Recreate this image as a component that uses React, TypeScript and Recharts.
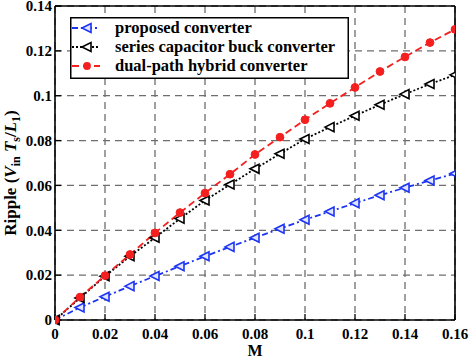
import React from "react";
import { LineChart, Line, XAxis, YAxis, CartesianGrid, Legend } from "recharts";

const mValues = [0, 0.01, 0.02, 0.03, 0.04, 0.05, 0.06, 0.07, 0.08, 0.09, 0.1, 0.11, 0.12, 0.13, 0.14, 0.15, 0.16];
const proposed = [0, 0.0056, 0.0104, 0.0151, 0.0196, 0.024, 0.0284, 0.0326, 0.0367, 0.0407, 0.0447, 0.0484, 0.0521, 0.0556, 0.059, 0.0622, 0.0653];
const seriesCap = [0, 0.0098, 0.0195, 0.0284, 0.0367, 0.0452, 0.0533, 0.0604, 0.0674, 0.0741, 0.0807, 0.086, 0.0911, 0.096, 0.1007, 0.1052, 0.1093];
const dualPath = [0, 0.0102, 0.0198, 0.0292, 0.0388, 0.0479, 0.0566, 0.065, 0.0738, 0.0815, 0.0893, 0.0966, 0.1037, 0.1108, 0.1173, 0.1237, 0.1296];

const xTicks = [0, 0.02, 0.04, 0.06, 0.08, 0.1, 0.12, 0.14, 0.16];
const yTicks = [0, 0.02, 0.04, 0.06, 0.08, 0.1, 0.12, 0.14];
const xMinor = [0, 0.005, 0.01, 0.015, 0.02, 0.025, 0.03, 0.035, 0.04, 0.045, 0.05, 0.055, 0.06, 0.065, 0.07, 0.075, 0.08, 0.085, 0.09, 0.095, 0.1, 0.105, 0.11, 0.115, 0.12, 0.125, 0.13, 0.135, 0.14, 0.145, 0.15, 0.155, 0.16];
const yMinor = [0, 0.005, 0.01, 0.015, 0.02, 0.025, 0.03, 0.035, 0.04, 0.045, 0.05, 0.055, 0.06, 0.065, 0.07, 0.075, 0.08, 0.085, 0.09, 0.095, 0.1, 0.105, 0.11, 0.115, 0.12, 0.125, 0.13, 0.135, 0.14];

const names = ["proposed converter", "series capacitor buck converter", "dual-path hybrid converter"];

const data = mValues.map((m, i) => ({
  m,
  proposed: proposed[i],
  seriesCap: seriesCap[i],
  dualPath: dualPath[i],
}));

const BLUE = "#1c34f2";
const RED = "#f41f1f";
const FONT = "'Liberation Serif', 'Times New Roman', serif";

const tri = (cx: number, cy: number) => `${cx - 5},${cy} ${cx + 4},${cy - 4.5} ${cx + 4},${cy + 4.5}`;

const BlueDot = (p: any) => (
  <polygon key={p.index} points={tri(p.cx, p.cy)} fill="#dfe4ff" stroke={BLUE} strokeWidth={1.6} />
);
const BlackDot = (p: any) => (
  <polygon key={p.index} points={tri(p.cx, p.cy)} fill="#fff" stroke="#000" strokeWidth={1.6} />
);
const RedDot = (p: any) => <circle key={p.index} cx={p.cx} cy={p.cy} r={3.9} fill={RED} stroke={RED} />;

const tickStyle = { fontFamily: FONT, fontWeight: "bold", fontSize: 15, fill: "#000" };

function LegendBox() {
  const rows = [
    { dash: "6 3 2 3", color: BLUE, marker: "tri", fill: "#dfe4ff" },
    { dash: "2 2", color: "#000", marker: "tri", fill: "#fff" },
    { dash: "7 4", color: RED, marker: "circle", fill: RED },
  ];
  return (
    <svg width={279} height={62} style={{ display: "block" }}>
      <rect x={0.75} y={0.75} width={277.5} height={60.5} fill="#fff" stroke="#000" strokeWidth={1.5} />
      {rows.map((r, i) => {
        const y = 11 + i * 19;
        return (
          <g key={i}>
            <line x1={2} x2={30} y1={y} y2={y} stroke={r.color} strokeWidth={1.8} strokeDasharray={r.dash} />
            {r.marker === "tri" ? (
              <polygon points={tri(17, y)} fill={r.fill} stroke={r.color} strokeWidth={1.6} />
            ) : (
              <circle cx={17} cy={y} r={3.9} fill={r.fill} />
            )}
            <text x={45} y={y + 5} style={{ ...tickStyle, fontSize: 16.5 }}>
              {names[i]}
            </text>
          </g>
        );
      })}
    </svg>
  );
}

export default function App() {
  return (
    <div style={{ position: "absolute", left: 0, top: 0, background: "#fff" }}>
      <LineChart width={474} height={361} data={data} margin={{ top: 6, right: 19, bottom: 0, left: 0 }}>
        <CartesianGrid stroke="#6e6e6e" strokeWidth={1.3} strokeDasharray="7 5" xAxisId="x" yAxisId="y" />
        <XAxis
          xAxisId="x"
          dataKey="m"
          type="number"
          domain={[0, 0.16]}
          ticks={xTicks}
          height={41}
          tickSize={-6}
          tickMargin={14}
          tickLine={{ stroke: "#000", strokeWidth: 1.3 }}
          axisLine={{ stroke: "#000", strokeWidth: 1.6 }}
          tick={tickStyle}
          interval={0}
          allowDataOverflow
          label={{
            content: () => (
              <text x={255} y={356} textAnchor="middle" style={{ ...tickStyle, fontSize: 16 }}>
                M
              </text>
            ),
          }}
        />
        <XAxis xAxisId="xb" type="number" dataKey="m" domain={[0, 0.16]} ticks={xMinor} orientation="bottom" mirror height={1} tick={false} tickSize={3} axisLine={false} tickLine={{ stroke: "#000" }} interval={0} />
        <XAxis xAxisId="xt" type="number" dataKey="m" domain={[0, 0.16]} ticks={xMinor} orientation="top" mirror height={1} tick={false} tickSize={3} axisLine={{ stroke: "#000", strokeWidth: 1.6 }} tickLine={{ stroke: "#000" }} interval={0} />
        <YAxis
          yAxisId="y"
          type="number"
          domain={[0, 0.14]}
          ticks={yTicks}
          width={55}
          tickSize={-6}
          tickMargin={9}
          tickLine={{ stroke: "#000", strokeWidth: 1.3 }}
          axisLine={{ stroke: "#000", strokeWidth: 1.6 }}
          tick={tickStyle}
          interval={0}
          label={{
            content: () => (
              <text transform="translate(16,173) rotate(-90)" textAnchor="middle" style={{ ...tickStyle, fontSize: 17 }}>
                Ripple (
                <tspan fontStyle="italic">V</tspan>
                <tspan fontSize={12} dy={4}>in</tspan>
                <tspan dy={-4}> </tspan>
                <tspan fontStyle="italic">T</tspan>
                <tspan fontSize={12} dy={4}>s</tspan>
                <tspan dy={-4}>/</tspan>
                <tspan fontStyle="italic">L</tspan>
                <tspan fontSize={12} dy={4}>1</tspan>
                <tspan dy={-4}>)</tspan>
              </text>
            ),
          }}
        />
        <YAxis yAxisId="yl" type="number" domain={[0, 0.14]} ticks={yMinor} orientation="left" mirror width={1} tick={false} tickSize={3} axisLine={false} tickLine={{ stroke: "#000" }} interval={0} />
        <YAxis yAxisId="yr" type="number" domain={[0, 0.14]} ticks={yMinor} orientation="right" mirror width={1} tick={false} tickSize={3} axisLine={{ stroke: "#000", strokeWidth: 1.6 }} tickLine={{ stroke: "#000" }} interval={0} />
        <Legend
          layout="vertical"
          align="center"
          verticalAlign="middle"
          wrapperStyle={{ position: "absolute", left: 70, top: 17, width: 279, height: 62 }}
          content={() => <LegendBox />}
        />
        <Line xAxisId="x" yAxisId="y" dataKey="proposed" name={names[0]} stroke={BLUE} strokeWidth={1.8} strokeDasharray="6 3 2 3" dot={BlueDot} isAnimationActive={false} />
        <Line xAxisId="x" yAxisId="y" dataKey="seriesCap" name={names[1]} stroke="#000" strokeWidth={1.8} strokeDasharray="2 2" dot={BlackDot} isAnimationActive={false} />
        <Line xAxisId="x" yAxisId="y" dataKey="dualPath" name={names[2]} stroke={RED} strokeWidth={1.8} strokeDasharray="7 4" dot={RedDot} isAnimationActive={false} />
      </LineChart>
    </div>
  );
}
